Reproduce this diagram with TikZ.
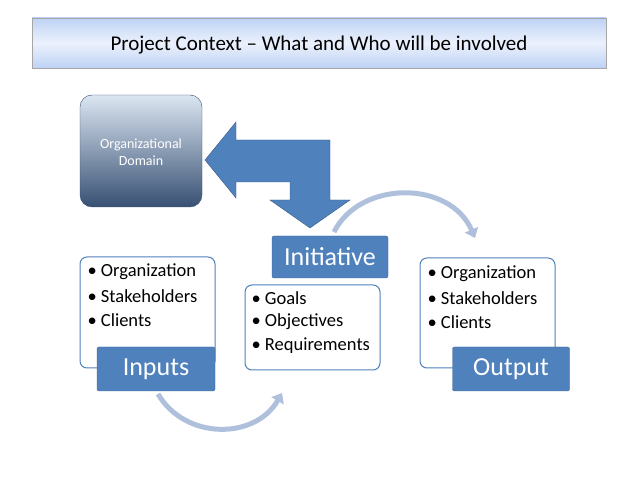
\documentclass[tikz,border=0pt]{standalone}
\usepackage{fontspec}
\setmainfont{Carlito}
\usetikzlibrary{arrows.meta}
\definecolor{accent}{RGB}{79,129,189}
\definecolor{steel}{RGB}{55,80,115}
\definecolor{curvc}{RGB}{175,192,220}
\definecolor{titlec}{RGB}{190,210,245}
\begin{document}
\begin{tikzpicture}[x=1pt,y=-1pt,
  lbl/.style={draw=accent!80!black,fill=accent,rounded corners=2pt,text=white,font=\fontsize{26}{28}\selectfont,inner sep=0pt},
  outline/.style={draw=accent,line width=1pt,rounded corners=7pt,fill=white},
  bl/.style={anchor=west,font=\fontsize{18.5}{20}\selectfont,align=left},
  curv/.style={line width=5pt,draw=curvc,-{Triangle[length=9pt,width=14pt]}}]
\useasboundingbox (0,0) rectangle (638,478);
\shade[top color=titlec,bottom color=titlec,middle color=white!70!titlec,draw=gray!70] (32,18) rectangle (606,68);
\node[font=\fontsize{21}{23}\selectfont] (title) at (319,45) {Project Context -- What and Who will be involved};
\shade[top color=accent!20,bottom color=steel,rounded corners=12pt,draw=steel] (80,95) rectangle (202,207);
\node[text=white,align=center,font=\fontsize{14}{17}\selectfont] (org) at (141,152) {Organizational\\Domain};
\filldraw[fill=accent,draw=accent!70!black] (205,160) -- (236,122) -- (236,140) -- (330,140) -- (330,200) -- (350,200) -- (310,228) -- (270,200) -- (290,200) -- (290,182) -- (236,182) -- (236,198) -- cycle;
\draw[outline] (80,257) rectangle (215,368);
\draw[outline] (245,285) rectangle (380,370);
\draw[outline] (420,258) rectangle (555,368);
\node[lbl,minimum width=118pt,minimum height=44pt] (inputs) at (156,369) {Inputs};
\node[lbl,minimum width=116pt,minimum height=42pt] (init) at (330,257) {Initiative};
\node[lbl,minimum width=117pt,minimum height=44pt] (output) at (511,369) {Output};
\foreach \t/\y in {Organization/272,Stakeholders/296,Clients/320}{\node[bl] at (84,\y) {\textbullet\ \t};}
\foreach \t/\y in {Goals/298,Objectives/322,Requirements/346}{\node[bl] at (248,\y) {\textbullet\ \t};}
\foreach \t/\y in {Organization/274,Stakeholders/298,Clients/322}{\node[bl] at (424,\y) {\textbullet\ \t};}
\coordinate (a1) at (158,394); \coordinate (a2) at (282,393);
\draw[curv] (a1) .. controls (185,440) and (255,440) .. (a2);
\coordinate (b1) at (334,232); \coordinate (b2) at (475,238);
\draw[curv] (b1) .. controls (360,180) and (450,180) .. (b2);
\end{tikzpicture}
\end{document}
